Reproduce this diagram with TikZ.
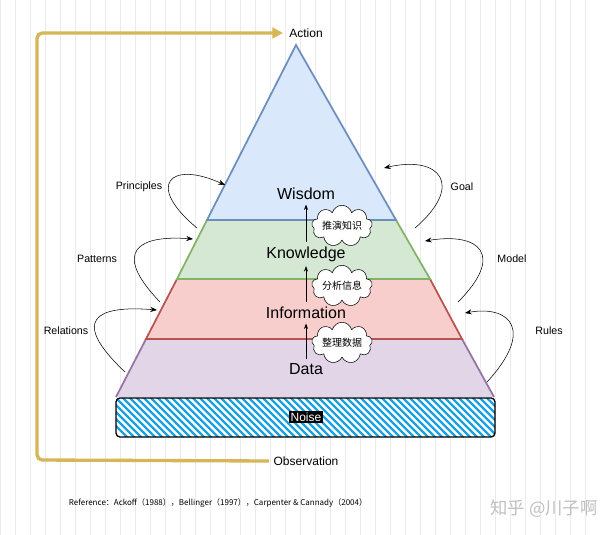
\documentclass[tikz,border=0pt]{standalone}
\usepackage{fontspec}
\setmainfont{Liberation Sans}
\newfontfamily\cjk{Noto Sans CJK SC}
\usetikzlibrary{shapes.symbols,arrows.meta}
\definecolor{gold}{HTML}{D6B656}
\definecolor{blueF}{HTML}{DAE8FC}\definecolor{blueD}{HTML}{6C8EBF}
\definecolor{greenF}{HTML}{D5E8D4}\definecolor{greenD}{HTML}{82B366}
\definecolor{redF}{HTML}{F8CECC}\definecolor{redD}{HTML}{B85450}
\definecolor{purF}{HTML}{E1D5E7}\definecolor{purD}{HTML}{9673A6}
\definecolor{hatch}{HTML}{1BA1E2}
\begin{document}
\begin{tikzpicture}[x=0.75pt,y=-0.75pt,
  lbl/.style={font=\fontsize{8}{9}\selectfont},
  big/.style={font=\fontsize{12}{14}\selectfont},
  cl/.style={cloud,cloud puffs=9,draw,fill=white,inner sep=0pt,minimum width=44pt,minimum height=22pt,aspect=2,font=\cjk\fontsize{7.5}{9}\selectfont},
  curv/.style={-{Stealth[length=5pt]},thin}]
\useasboundingbox (0,0) rectangle (600,535);
\fill[white] (0,0) rectangle (600,535);
\draw[black!8,line width=0.3pt] (0,0) grid[step=15] (600,535);
% pyramid layers
\fill[purF] (116,397) -- (494,397) -- (462,339) -- (146,339) -- cycle;
\fill[redF] (146,339) -- (462,339) -- (430,279) -- (177,279) -- cycle;
\fill[greenF] (177,279) -- (430,279) -- (396,220) -- (207,220) -- cycle;
\fill[blueF] (207,220) -- (396,220) -- (296,45) -- cycle;
\draw[purD,line width=1.3pt] (146,339) -- (116,397) (462,339) -- (494,397);
\draw[redD,line width=1.3pt] (177,279) -- (146,339) -- (462,339) -- (430,279);
\draw[greenD,line width=1.3pt] (207,220) -- (177,279) -- (430,279) -- (396,220);
\draw[blueD,line width=1.3pt] (207,220) -- (296,45) -- (396,220) -- cycle;
% noise
\begin{scope}
\clip[rounded corners=3pt] (116,398) rectangle (495,437);
\fill[white] (116,398) rectangle (495,437);
\foreach \i in {0,...,64} {\draw[hatch,line width=1.8pt] (80+7*\i,390) -- ++(50,50);}
\end{scope}
\draw[line width=1pt,rounded corners=3pt] (116,398) rectangle (495,437);
\node[fill=black,text=white,inner sep=1pt,lbl,font=\fontsize{9}{10}\selectfont] (noise) at (306,417) {Noise};
% texts
\node[big] (wis) at (306,194) {Wisdom};
\node[big] (kno) at (306,254) {Knowledge};
\node[big] (inf) at (306,313) {Information};
\node[big] (dat) at (306,369) {Data};
\node[lbl,font=\fontsize{9}{10}\selectfont] (act) at (306,33) {Action};
\node[lbl,font=\fontsize{9}{10}\selectfont] (obs) at (306,461) {Observation};
\draw[-{Stealth[length=4pt]}] (dat.north) -- (inf.south);
\draw[-{Stealth[length=4pt]}] (inf.north) -- (kno.south);
\draw[-{Stealth[length=4pt]}] (kno.north) -- (wis.south);
\node[cl] (c1) at (342,226) {推演知识};
\node[cl] (c2) at (342,286) {分析信息};
\node[cl] (c3) at (342,343) {整理数据};
% yellow loop
\coordinate (lt) at (37,33);
\coordinate (lb) at (37,460);
\draw[gold,line width=2.5pt,rounded corners=4pt,-{Triangle[length=8pt,width=8pt]}] (obs.west) -- (lb) -- (lt) -- (283,33);
% side labels
\node[lbl] (rel) at (66,331) {Relations};
\node[lbl] (pat) at (97,259) {Patterns};
\node[lbl] (pri) at (139,187) {Principles};
\node[lbl] (goa) at (462,187) {Goal};
\node[lbl] (mod) at (512,259) {Model};
\node[lbl] (rul) at (549,331) {Rules};
\coordinate (r1a) at (125,372); \coordinate (r1b) at (157,310);
\coordinate (r2a) at (160,302); \coordinate (r2b) at (193,239);
\coordinate (r3a) at (197,228); \coordinate (r3b) at (225,185);
\coordinate (g1a) at (415,228); \coordinate (g1b) at (384,168);
\coordinate (g2a) at (458,302); \coordinate (g2b) at (425,241);
\coordinate (g3a) at (487,382); \coordinate (g3b) at (465,313);
\draw[curv] (r1a) .. controls (70,320) and (95,305) .. (r1b);
\draw[curv] (r2a) .. controls (110,250) and (140,235) .. (r2b);
\draw[curv] (r3a) .. controls (145,185) and (170,160) .. (r3b);
\draw[curv] (g1a) .. controls (465,185) and (440,155) .. (g1b);
\draw[curv] (g2a) .. controls (505,255) and (480,232) .. (g2b);
\draw[curv] (g3a) .. controls (535,330) and (510,305) .. (g3b);
\node[font=\cjk\fontsize{6}{7}\selectfont] (ref) at (218,503) {Reference：Ackoff（1988），Bellinger（1997），Carpenter \& Cannady（2004）};
\node[text=black!25,font=\cjk\fontsize{13}{14}\selectfont] (wm) at (544,509) {知乎 @川子啊};
\end{tikzpicture}
\end{document}
